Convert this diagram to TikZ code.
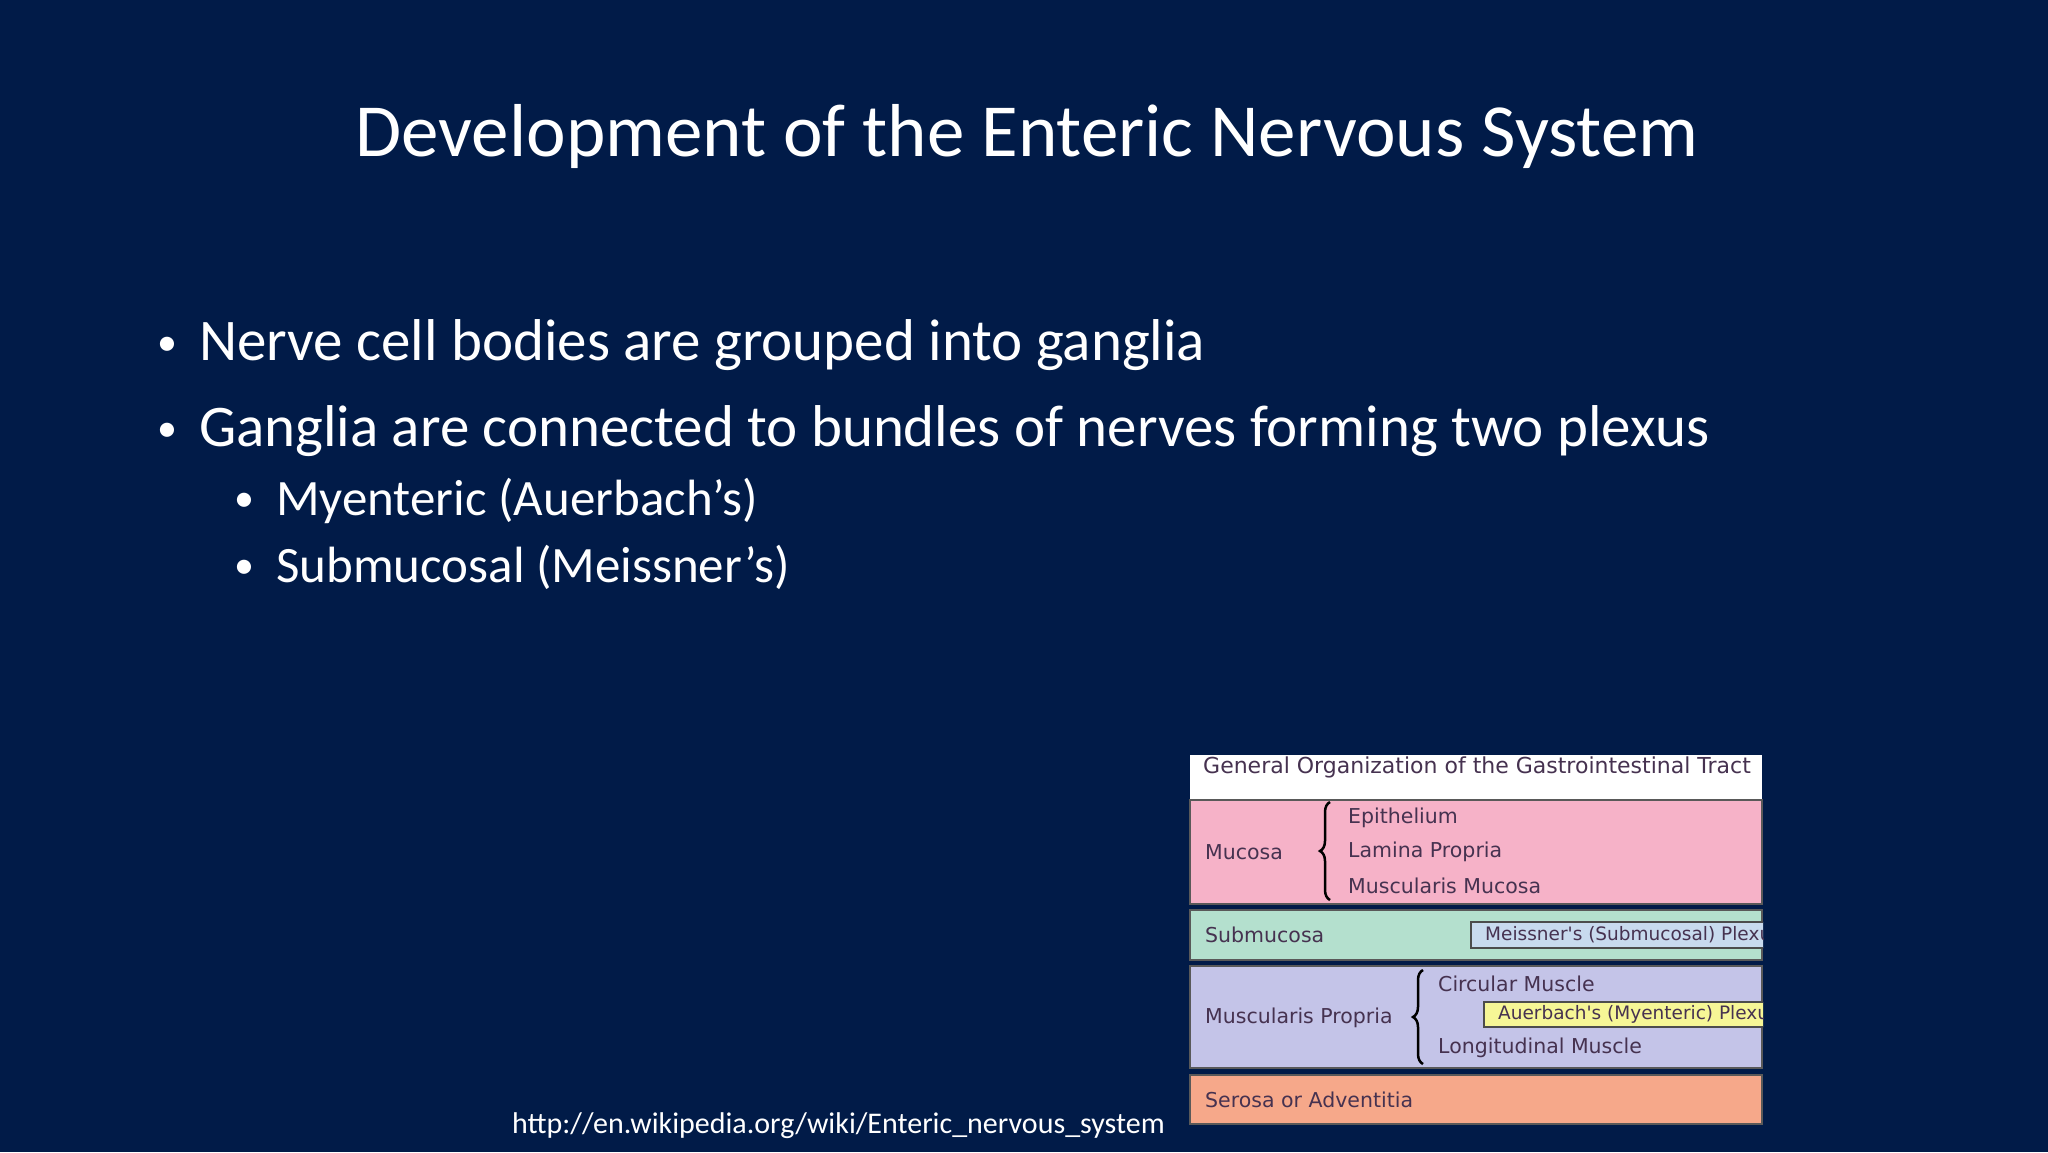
\documentclass[tikz,border=0pt]{standalone}
\usepackage{fontspec}
\setmainfont{Carlito}
\newfontfamily\insetfont{DejaVu Sans}
\usetikzlibrary{decorations.pathreplacing}
\definecolor{bg}{RGB}{1,27,72}
\definecolor{pinkb}{RGB}{246,178,200}
\definecolor{greenb}{RGB}{180,224,206}
\definecolor{lavb}{RGB}{196,196,232}
\definecolor{salb}{RGB}{246,168,138}
\definecolor{blueb}{RGB}{200,218,238}
\definecolor{yelb}{RGB}{246,246,150}
\definecolor{itxt}{RGB}{70,50,80}
\newcommand\bdot{\raisebox{0.08em}{\fontsize{40}{40}\selectfont•}}
\tikzset{
 band/.style={draw=gray!70!black,line width=1.5pt},
 ilab/.style={anchor=west,inner sep=0,font=\insetfont\fontsize{20.5}{24}\selectfont,text=itxt},
 slab/.style={anchor=west,inner sep=0,font=\insetfont\fontsize{18.5}{20}\selectfont,text=itxt},
 brc/.style={decorate,decoration={brace,amplitude=10pt},line width=2.5pt,black},
 bul/.style={anchor=west,inner sep=0,text=white,font=\fontsize{59}{66}\selectfont},
 sbul/.style={anchor=west,inner sep=0,text=white,font=\fontsize{51}{58}\selectfont}
}
\begin{document}
\begin{tikzpicture}[x=1pt,y=-1pt]
\fill[bg] (0,0) rectangle (2048,1152);
\useasboundingbox (0,0) rectangle (2048,1152);
\node[text=white,font=\fontsize{75}{82}\selectfont] (title) at (1027,136) {Development of the Enteric Nervous System};
\node[bul] (b1) at (157,345) {\bdot\hspace{22pt}Nerve cell bodies are grouped into ganglia};
\node[bul] (b2) at (157,431) {\bdot\hspace{22pt}Ganglia are connected to bundles of nerves forming two plexus};
\node[sbul] (s1) at (234,501) {\bdot\hspace{22pt}Myenteric (Auerbach’s)};
\node[sbul] (s2) at (234,567) {\bdot\hspace{22pt}Submucosal (Meissner’s)};
\node[text=white,font=\fontsize{30}{33}\selectfont,anchor=east,inner sep=0] (url) at (1165,1126) {http://en.wikipedia.org/wiki/Enteric\_nervous\_system};
% inset
\begin{scope}
\clip (1188,753) rectangle (1763,1126);
\fill[white] (1190,755) rectangle (1762,800);
\node[ilab,font=\insetfont\fontsize{22}{24}\selectfont] (t) at (1203,767) {General Organization of the Gastrointestinal Tract};
\filldraw[band,fill=pinkb] (1190,800) rectangle (1762,904);
\filldraw[band,fill=greenb] (1190,910) rectangle (1762,960);
\filldraw[band,fill=lavb] (1190,966) rectangle (1762,1068);
\filldraw[band,fill=salb] (1190,1075) rectangle (1762,1124);
\node[ilab] (muc) at (1205,852) {Mucosa};
\draw[brc] (1330,900) -- (1330,802);
\node[ilab] (ep) at (1348,818) {Epithelium};
\node[ilab] (lp) at (1348,852) {Lamina Propria};
\node[ilab] (mm) at (1348,886) {Muscularis Mucosa};
\node[ilab] (sub) at (1205,935) {Submucosa};
\filldraw[draw=gray!60!black,line width=1.5pt,fill=blueb] (1471,922) rectangle (1775,948);
\node[slab] (meis) at (1485,935) {Meissner's (Submucosal) Plexus};
\node[ilab] (mp) at (1205,1018) {Muscularis Propria};
\draw[brc] (1423,1064) -- (1423,970);
\node[ilab] (cm) at (1438,984) {Circular Muscle};
\filldraw[draw=gray!60!black,line width=1.5pt,fill=yelb] (1484,1002) rectangle (1775,1027);
\node[slab] (aue) at (1498,1014) {Auerbach's (Myenteric) Plexus};
\node[ilab] (lm) at (1438,1048) {Longitudinal Muscle};
\node[ilab] (ser) at (1205,1100) {Serosa or Adventitia};
\end{scope}
\end{tikzpicture}
\end{document}
